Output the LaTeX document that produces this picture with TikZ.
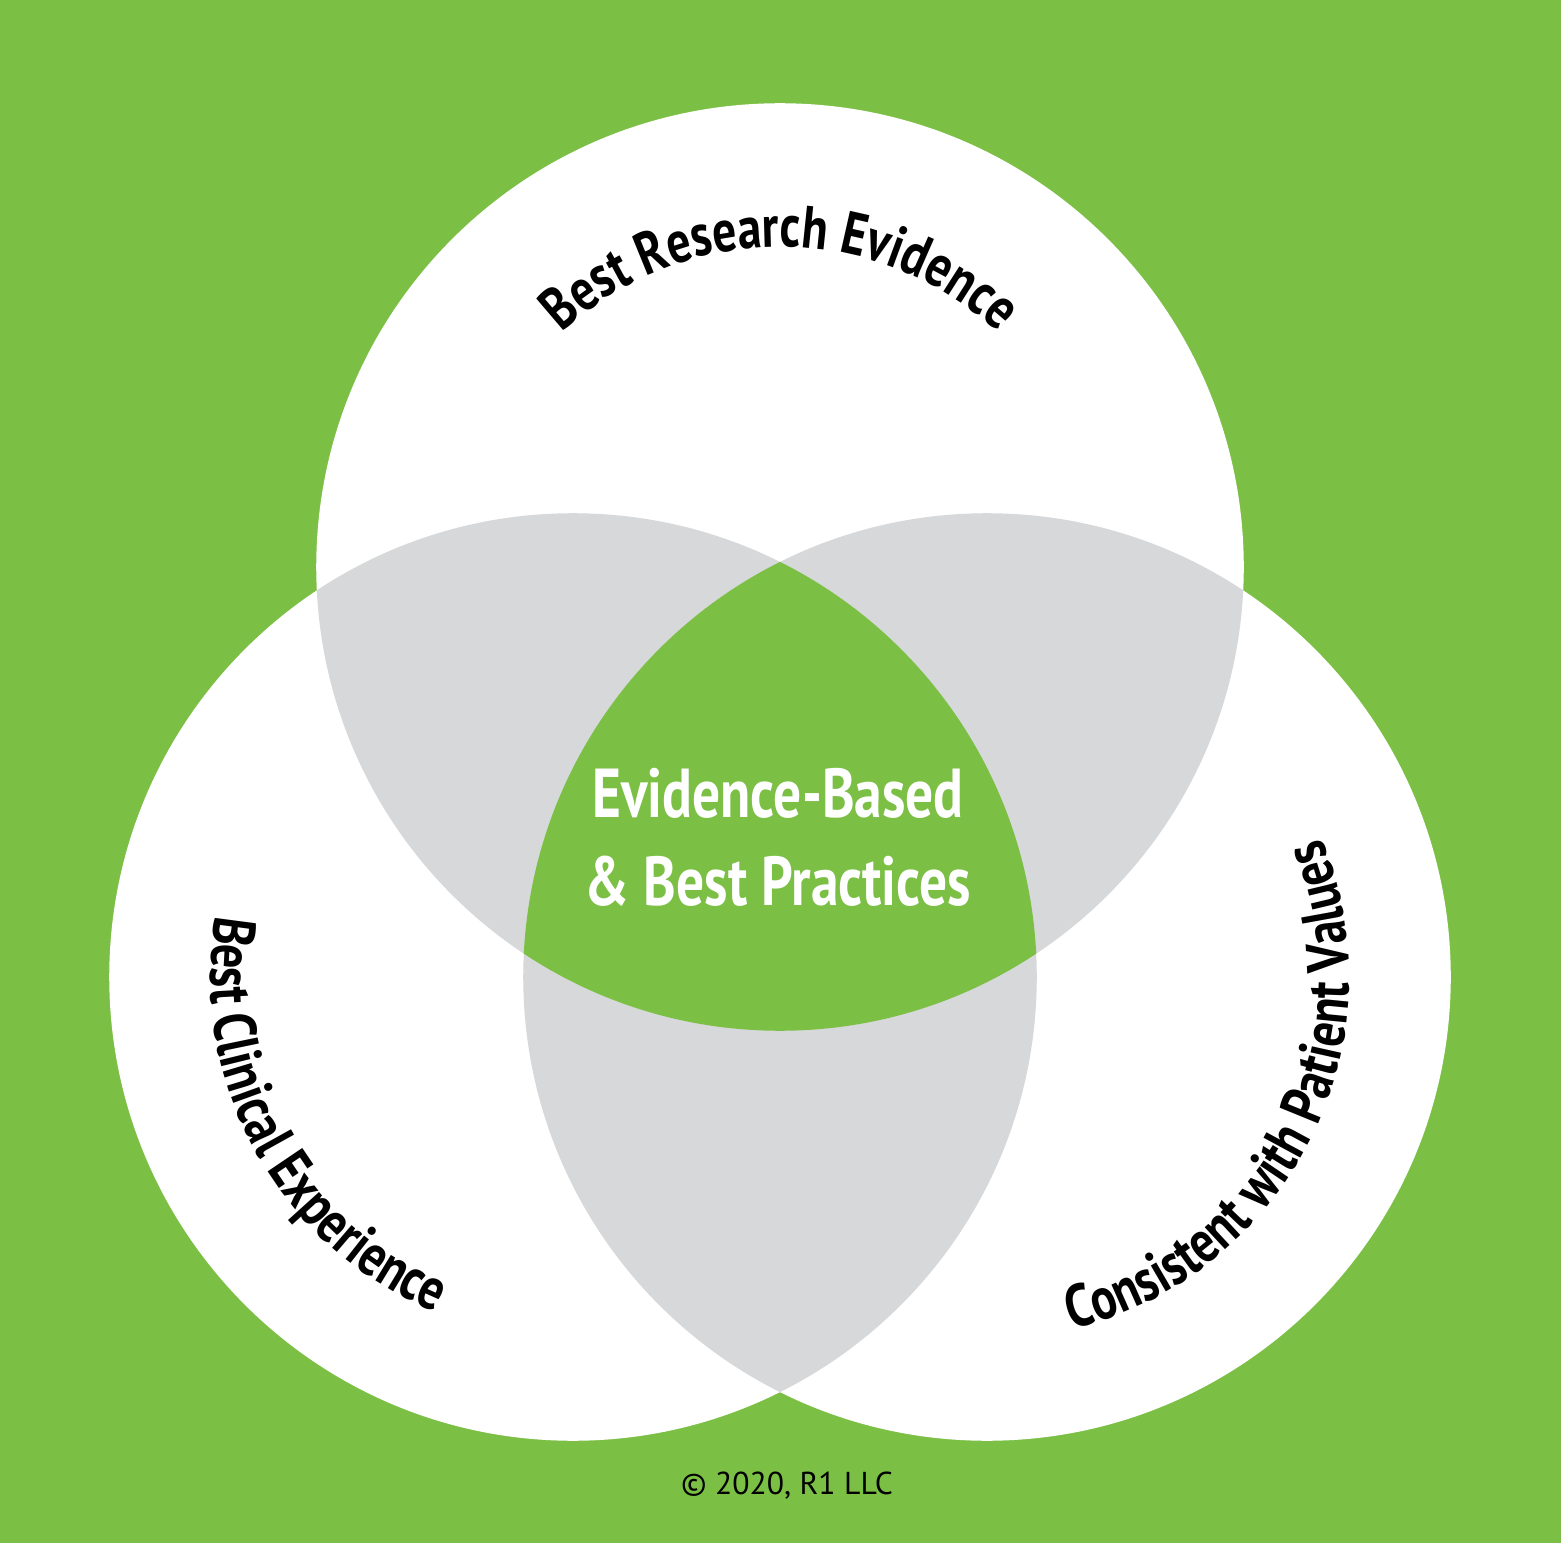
\documentclass[tikz,border=0pt]{standalone}
\usepackage{fontspec}
\setmainfont{PT Sans}[FakeStretch=0.8]
\newfontfamily\copyfont{PT Sans}
\usetikzlibrary{decorations.text}
\definecolor{ebgreen}{HTML}{7BBF44}
\definecolor{ebgrey}{HTML}{D7D8DA}
\tikzset{
  arclabel/.style={decorate,decoration={text along path,text align=center,text={|\fontsize{17}{17}\selectfont\bfseries|#1}}}
}
\begin{document}
\begin{tikzpicture}[x=0.01cm,y=-0.01cm]
  %fundo
  \fill[ebgreen] (0,0) rectangle (1561,1543);
  \useasboundingbox (0,0) rectangle (1561,1543);
  \coordinate (top) at (780,567);
  \coordinate (left) at (573,977);
  \coordinate (right) at (987,977);
  %circulos
  \foreach \c in {top,left,right}
    \fill[white] (\c) circle[radius=4.635cm];
  %intersecoes de dois
  \begin{scope}
    \clip (top) circle[radius=4.635cm];
    \fill[ebgrey] (left) circle[radius=4.635cm];
    \fill[ebgrey] (right) circle[radius=4.635cm];
  \end{scope}
  \begin{scope}
    \clip (left) circle[radius=4.635cm];
    \fill[ebgrey] (right) circle[radius=4.635cm];
  \end{scope}
  %centro
  \begin{scope}
    \clip (top) circle[radius=4.635cm];
    \clip (left) circle[radius=4.635cm];
    \fill[ebgreen] (right) circle[radius=4.635cm];
  \end{scope}
  \node[white,align=center,font=\fontsize{19.7}{25}\selectfont\bfseries] (ebp) at (778,837) {Evidence-Based\\\& Best Practices};
  %rotulos curvos
  \path[arclabel={Best Research Evidence}] (top) ++(150:3.2cm) arc[start angle=150,end angle=30,radius=3.2cm];
  \path[arclabel={Best Clinical Experience}] (left) ++(150:3.62cm) arc[start angle=150,end angle=268,radius=3.62cm];
  \path[arclabel={Consistent with Patient Values}] (right) ++(-88:3.62cm) arc[start angle=-88,end angle=34,radius=3.62cm];
  \node[font=\fontsize{9}{9}\copyfont] (copy) at (787,1486) {© 2020, R1 LLC};
\end{tikzpicture}
\end{document}
